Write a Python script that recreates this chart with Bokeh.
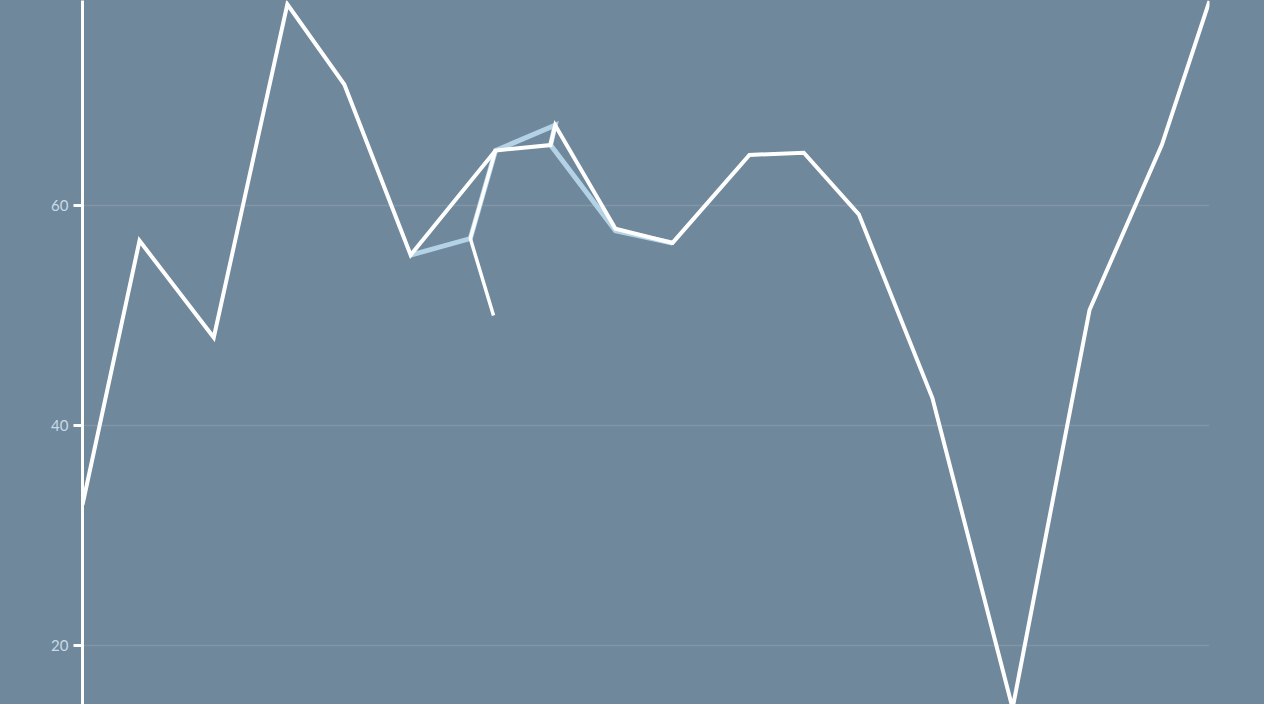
from bokeh.plotting import figure
from bokeh.models import Range1d, FixedTicker
from bokeh.embed import file_html
from bokeh.resources import INLINE

# ---- data ----
main_x = [0, 0.86, 1.98, 3.09, 3.95, 4.95, 6.23, 7.06, 7.13, 8.04, 8.90,
          10.06, 10.88, 11.71, 12.82, 14.03, 15.19, 16.28, 17.0]
main_y = [32.8, 56.8, 48.0, 78.3, 71.0, 55.5, 65.0, 65.5, 67.3, 57.9, 56.6,
          64.6, 64.8, 59.2, 42.5, 14.3, 50.5, 65.5, 78.6]

alt_x = [4.95, 5.85, 6.23, 7.13, 7.06, 8.04, 8.90]
alt_y = [55.5, 57.0, 65.0, 67.3, 65.5, 57.7, 56.6]

branch_x = [6.23, 5.85, 6.20]
branch_y = [65.0, 57.0, 50.0]

y_ticks = [20, 40, 60, 80]
y_tick_labels = {20: "20", 40: "40", 60: "60", 80: "80"}

BG = "#70889b"

p = figure(width=1264, height=704, output_backend="svg", toolbar_location=None,
           x_range=Range1d(0, 17), y_range=Range1d(14.64, 78.64),
           background_fill_color=BG, border_fill_color=BG,
           min_border_left=82, min_border_right=55, min_border_top=0,
           min_border_bottom=0, outline_line_color=None,
           styles={"background-color": BG})

p.xaxis.visible = False
p.xgrid.visible = False

p.ygrid.grid_line_color = "#8aa0b1"
p.ygrid.grid_line_width = 1.5
p.ygrid.grid_line_alpha = 0.6

yax = p.yaxis[0]
yax.ticker = FixedTicker(ticks=y_ticks)
yax.major_label_overrides = y_tick_labels
yax.axis_line_color = "white"
yax.axis_line_width = 3
yax.major_tick_line_color = "white"
yax.major_tick_line_width = 3
yax.major_tick_out = 9
yax.major_tick_in = 0
yax.minor_tick_line_color = None
yax.major_label_text_color = "#c9dbe8"
yax.major_label_text_font = "Lato"
yax.major_label_text_font_size = "15px"
yax.major_label_standoff = 5

p.line(alt_x, alt_y, line_color="#b3d2e6", line_width=5, line_join="miter")
p.line(main_x, main_y, line_color="white", line_width=4, line_join="miter")
p.line(branch_x, branch_y, line_color="white", line_width=3.5, line_join="miter")

open("out.html", "w").write(file_html(p, INLINE))
